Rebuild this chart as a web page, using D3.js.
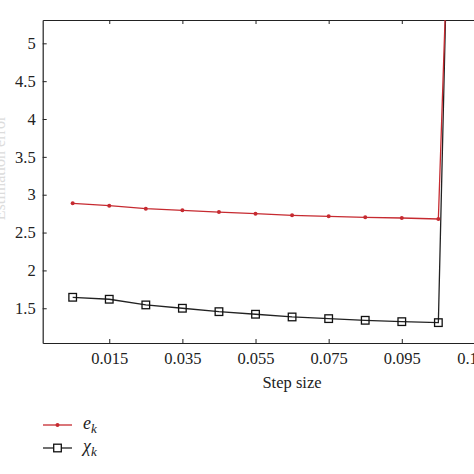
<!DOCTYPE html>
<html>
<head>
<meta charset="utf-8">
<script src="https://cdn.jsdelivr.net/npm/d3@7"></script>
<style>
  body { margin: 0; background: #fff; }
</style>
</head>
<body>
<div id="chart"></div>
<script>
// Data
const stepSizes = [0.005, 0.015, 0.025, 0.035, 0.045, 0.055, 0.065, 0.075, 0.085, 0.095, 0.105, 0.115];
const eValues = [2.886, 2.855, 2.815, 2.794, 2.771, 2.749, 2.728, 2.715, 2.701, 2.692, 2.679, 17.1];
const chiValues = [1.645, 1.619, 1.544, 1.50, 1.455, 1.421, 1.385, 1.363, 1.341, 1.323, 1.310, 21.9];
const xTicks = [0.015, 0.035, 0.055, 0.075, 0.095, 0.115];
const yTicks = [1.5, 2, 2.5, 3, 3.5, 4, 4.5, 5];
const seriesNames = ["e", "\u03C7"];

const W = 474;
const H = 474;
const LEFT = 42.7;
const TOP = 20;
const BOTTOM = 343;
const RIGHT = 511.5;
const RED = "#c62a30";
const FONT = "'Liberation Serif', 'Times New Roman', serif";

const svg = d3.select("#chart").append("svg").attr("width", W).attr("height", H);

const x = d3.scaleLinear().domain([-0.0032, 0.125]).range([LEFT, RIGHT]);
const y = d3.scaleLinear().domain([1.041, 5.308]).range([BOTTOM, TOP]);

svg.append("defs").append("clipPath").attr("id", "plot")
  .append("rect")
  .attr("x", LEFT).attr("y", TOP)
  .attr("width", RIGHT - LEFT).attr("height", BOTTOM - TOP);

// Axes, ticks pointing inward
const fmt = d3.format(".3f");
const xAxis = svg.append("g")
  .attr("transform", "translate(0," + BOTTOM + ")")
  .call(d3.axisBottom(x).tickValues(xTicks).tickFormat(fmt).tickSizeInner(-4).tickSizeOuter(0).tickPadding(9));
const xTop = svg.append("g")
  .attr("transform", "translate(0," + TOP + ")")
  .call(d3.axisTop(x).tickValues(xTicks).tickFormat("").tickSizeInner(-4).tickSizeOuter(0));
const yAxis = svg.append("g")
  .attr("transform", "translate(" + LEFT + ",0)")
  .call(d3.axisLeft(y).tickValues(yTicks).tickFormat(d3.format("")).tickSizeInner(-4).tickSizeOuter(0).tickPadding(7));

[xAxis, xTop, yAxis].forEach((g) => {
  g.attr("font-family", null);
  g.select(".domain").attr("stroke", "#222").attr("stroke-width", 1.2);
  g.selectAll(".tick line").attr("stroke", "#222");
  g.selectAll(".tick text")
    .attr("fill", "#222")
    .style("font-family", FONT)
    .style("font-size", "16.5px");
});

svg.append("text")
  .attr("x", 292)
  .attr("y", 388)
  .attr("text-anchor", "middle")
  .attr("fill", "#222")
  .style("font-family", FONT)
  .style("font-size", "16.5px")
  .text("Step size");

// faint, mostly cropped y label
svg.append("text")
  .attr("transform", "translate(5,168) rotate(-90)")
  .attr("text-anchor", "middle")
  .attr("fill", "#dcdcdc")
  .style("font-family", FONT)
  .style("font-size", "16px")
  .text("Estimation error");

// Lines
const plot = svg.append("g").attr("clip-path", "url(#plot)");
const eData = stepSizes.map((s, i) => [s, eValues[i]]);
const chiData = stepSizes.map((s, i) => [s, chiValues[i]]);
const line = d3.line().x((d) => x(d[0])).y((d) => y(d[1]));

plot.append("path").datum(chiData)
  .attr("d", line).attr("fill", "none").attr("stroke", "#222").attr("stroke-width", 1.3);
plot.append("path").datum(eData)
  .attr("d", line).attr("fill", "none").attr("stroke", RED).attr("stroke-width", 1.3);

plot.selectAll(".sq").data(chiData).enter().append("rect")
  .attr("class", "sq")
  .attr("x", (d) => x(d[0]) - 3.8)
  .attr("y", (d) => y(d[1]) - 3.8)
  .attr("width", 7.6).attr("height", 7.6)
  .attr("fill", "none").attr("stroke", "#111").attr("stroke-width", 1.3);

plot.selectAll(".dot").data(eData).enter().append("circle")
  .attr("class", "dot")
  .attr("cx", (d) => x(d[0]))
  .attr("cy", (d) => y(d[1]))
  .attr("r", 2)
  .attr("fill", RED);

// Legend
const legend = svg.append("g").attr("transform", "translate(43,425)");
const items = legend.selectAll("g").data(seriesNames).enter().append("g")
  .attr("transform", (d, i) => "translate(0," + i * 23 + ")");
items.append("line")
  .attr("x1", 0).attr("x2", 29).attr("y1", 0).attr("y2", 0)
  .attr("stroke", (d, i) => (i === 0 ? RED : "#222")).attr("stroke-width", 1.3);
items.filter((d, i) => i === 0).append("circle")
  .attr("cx", 14.5).attr("cy", 0).attr("r", 2).attr("fill", RED);
items.filter((d, i) => i === 1).append("rect")
  .attr("x", 14.5 - 3.8).attr("y", -3.8).attr("width", 7.6).attr("height", 7.6)
  .attr("fill", "#fff").attr("stroke", "#111").attr("stroke-width", 1.3);
const lt = items.append("text")
  .attr("x", 40).attr("y", 4)
  .attr("fill", "#222")
  .style("font-family", FONT)
  .style("font-size", "18px")
  .style("font-style", "italic");
lt.append("tspan").text((d) => d);
lt.append("tspan").attr("dy", 4).style("font-size", "13px").text("k");
</script>
</body>
</html>
